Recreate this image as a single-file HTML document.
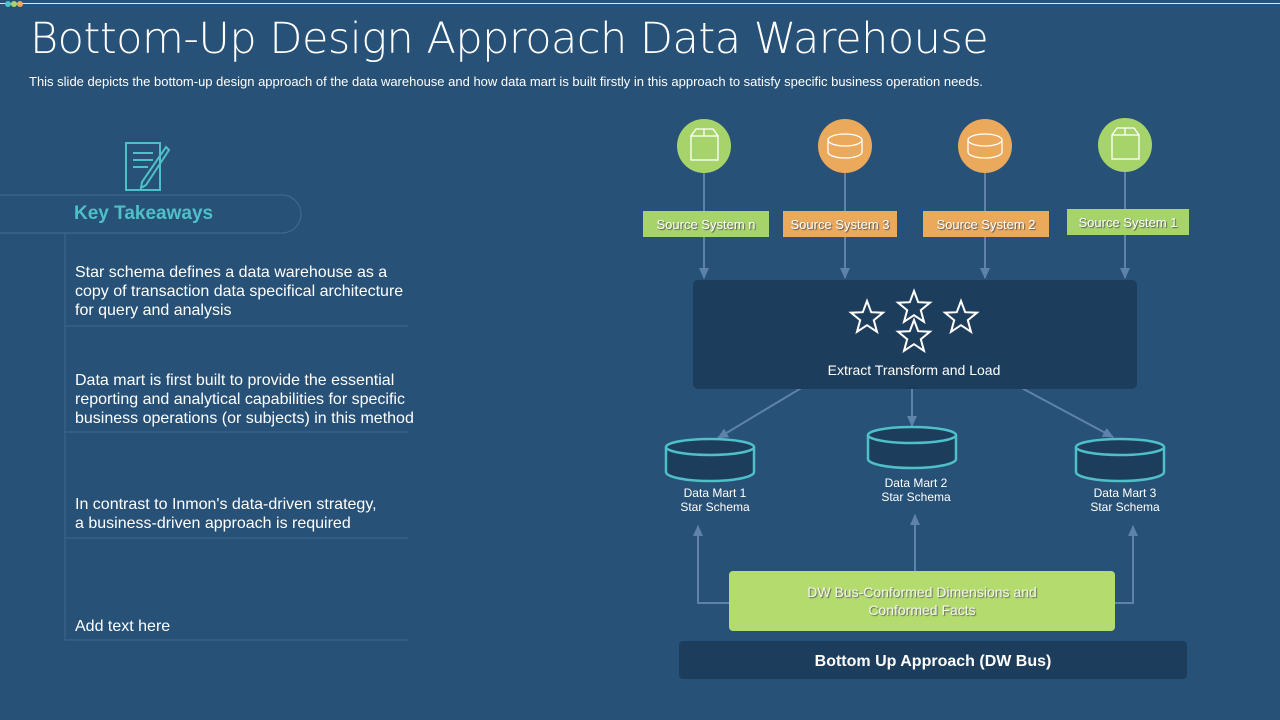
<!DOCTYPE html>
<html><head><meta charset="utf-8"><style>
body{margin:0;width:1280px;height:720px;overflow:hidden;background:#275177;font-family:"Liberation Sans",sans-serif;position:relative;color:#fff}
.a{position:absolute}
.t{font-size:16px;line-height:19px;color:#fff}
</style></head><body>
<svg class="a" style="left:0;top:0" width="1280" height="720">
<defs><marker id="ar" markerWidth="6" markerHeight="6" refX="5" refY="3" orient="auto"><path d="M0,0.5 L5.5,3 L0,5.5Z" fill="#5f83a8"/></marker></defs>
<line x1="0" y1="3.5" x2="1280" y2="3.5" stroke="#dfe8f0" stroke-width="1"/>
<circle cx="8" cy="4" r="3" fill="#4dc3c9"/><circle cx="14" cy="4" r="3" fill="#a6d46a"/><circle cx="20" cy="4" r="3" fill="#eba95c"/>
<g stroke="#4fc0c8" stroke-width="2" fill="none">
<rect x="126" y="143" width="34" height="47"/>
<line x1="133" y1="153" x2="153" y2="153"/><line x1="133" y1="160" x2="153" y2="160"/><line x1="133" y1="167" x2="148" y2="167"/>
<path d="M166 147 L169 150 L146 185 L141 188 L142 182 Z"/>
</g>
<path d="M0 195 H282 A19 19 0 0 1 282 233 H0" fill="none" stroke="#3f6890" stroke-width="1.2"/>
<line x1="65" y1="233" x2="65" y2="640" stroke="#3f6890"/>
<g stroke="#3f6890"><line x1="65" y1="326" x2="408" y2="326"/><line x1="65" y1="432" x2="408" y2="432"/><line x1="65" y1="538" x2="408" y2="538"/><line x1="65" y1="640" x2="408" y2="640"/></g>
<g stroke="#5f83a8" stroke-width="2" fill="none" marker-end="url(#ar)">
<line x1="704" y1="173" x2="704" y2="278"/><line x1="845" y1="173" x2="845" y2="278"/><line x1="985" y1="173" x2="985" y2="278"/><line x1="1125" y1="172" x2="1125" y2="278"/>
<line x1="818" y1="378" x2="718" y2="438"/><line x1="912" y1="389" x2="912" y2="426"/><line x1="1003" y1="378" x2="1113" y2="437"/>
<polyline points="729,603 698,603 698,526"/><line x1="915" y1="571" x2="915" y2="515"/><polyline points="1115,603 1133,603 1133,526"/>
</g>
<circle cx="704" cy="146" r="27" fill="#a6d46a"/><circle cx="845" cy="146" r="27" fill="#eba95c"/><circle cx="985" cy="146" r="27" fill="#eba95c"/><circle cx="1125" cy="145" r="27" fill="#a6d46a"/>
<g stroke="#fff" stroke-width="1.3" fill="none">
<rect x="691" y="136" width="27" height="24"/><path d="M691 136 L696 129 H713 L718 136 M704 129 V136"/>
<rect x="1112" y="135" width="27" height="24"/><path d="M1112 135 L1117 128 H1134 L1139 135 M1125 128 V135"/>
<ellipse cx="845" cy="140" rx="17" ry="6"/><path d="M828 140 V152 A17 6 0 0 0 862 152 V140"/>
<ellipse cx="985" cy="140" rx="17" ry="6"/><path d="M968 140 V152 A17 6 0 0 0 1002 152 V140"/>
</g>
<rect x="643" y="211" width="126" height="26" fill="#a6d46a"/>
<rect x="783" y="211" width="114" height="26" fill="#eba95c"/>
<rect x="923" y="211" width="126" height="26" fill="#eba95c"/>
<rect x="1067" y="209" width="122" height="26" fill="#a6d46a"/>
<rect x="693" y="280" width="444" height="109" rx="5" fill="#1d3d5c"/>
<g fill="none" stroke="#fff" stroke-width="2">
<path d="M0,-17 L4.2,-5.8 L16,-5.3 L6.8,2.2 L10,13.8 L0,7.2 L-10,13.8 L-6.8,2.2 L-16,-5.3 L-4.2,-5.8Z" transform="translate(867,318)"/>
<path d="M0,-17 L4.2,-5.8 L16,-5.3 L6.8,2.2 L10,13.8 L0,7.2 L-10,13.8 L-6.8,2.2 L-16,-5.3 L-4.2,-5.8Z" transform="translate(914,308)"/>
<path d="M0,-17 L4.2,-5.8 L16,-5.3 L6.8,2.2 L10,13.8 L0,7.2 L-10,13.8 L-6.8,2.2 L-16,-5.3 L-4.2,-5.8Z" transform="translate(961,318)"/>
<path d="M0,-17 L4.2,-5.8 L16,-5.3 L6.8,2.2 L10,13.8 L0,7.2 L-10,13.8 L-6.8,2.2 L-16,-5.3 L-4.2,-5.8Z" transform="translate(914,337)"/>
</g>
<g fill="#1d3d5c" stroke="#4fc0c8" stroke-width="2.5">
<path d="M666 447 V472 A44 9 0 0 0 754 472 V447"/><ellipse cx="710" cy="447" rx="44" ry="8"/>
<path d="M868 435 V459 A44 9 0 0 0 956 459 V435"/><ellipse cx="912" cy="435" rx="44" ry="8"/>
<path d="M1076 447 V472 A44 9 0 0 0 1164 472 V447"/><ellipse cx="1120" cy="447" rx="44" ry="8"/>
</g>
<rect x="729" y="571" width="386" height="60" rx="4" fill="#b3db6e"/>
<rect x="679" y="641" width="508" height="38" rx="4" fill="#1d3d5c"/>
<g font-family="Liberation Sans" fill="#fff" text-anchor="middle">
<g font-size="13" style="text-shadow:1px 1px 1px #555">
<text x="706" y="229">Source System n</text><text x="840" y="229">Source System 3</text><text x="986" y="229">Source System 2</text><text x="1128" y="227">Source System 1</text>
</g>
<text x="914" y="375" font-size="14">Extract Transform and Load</text>
<g font-size="12"><text x="715" y="497">Data Mart 1</text><text x="715" y="511">Star Schema</text>
<text x="916" y="487">Data Mart 2</text><text x="916" y="501">Star Schema</text>
<text x="1125" y="497">Data Mart 3</text><text x="1125" y="511">Star Schema</text></g>
<g font-size="14" fill="#f3f7ea" style="text-shadow:1px 1px 1px #666"><text x="922" y="597">DW Bus-Conformed Dimensions and</text><text x="922" y="615">Conformed Facts</text></g>
<text x="933" y="666" font-size="16" font-weight="bold">Bottom Up Approach (DW Bus)</text>
</g>
</svg>
<div class="a" style="left:30px;top:14px;font-size:43px;letter-spacing:-0.5px;color:#fff;font-family:'DejaVu Sans','Liberation Sans',sans-serif;font-weight:200;white-space:nowrap">Bottom-Up Design Approach Data Warehouse</div>
<div class="a" style="left:29px;top:74px;font-size:13px;white-space:nowrap">This slide depicts the bottom-up design approach of the data warehouse and how data mart is built firstly in this approach to satisfy specific business operation needs.</div>
<div class="a" style="left:74px;top:203px;font-size:19px;font-weight:bold;color:#4fc0c8">Key Takeaways</div>
<div class="a t" style="left:75px;top:263px">Star schema defines a data warehouse as a<br>copy of transaction data specifical architecture<br>for query and analysis</div>
<div class="a t" style="left:75px;top:371px">Data mart is first built to provide the essential<br>reporting and analytical capabilities for specific<br>business operations (or subjects) in this method</div>
<div class="a t" style="left:75px;top:495px">In contrast to Inmon's data-driven strategy,<br>a business-driven approach is required</div>
<div class="a t" style="left:75px;top:617px">Add text here</div>
</body></html>
